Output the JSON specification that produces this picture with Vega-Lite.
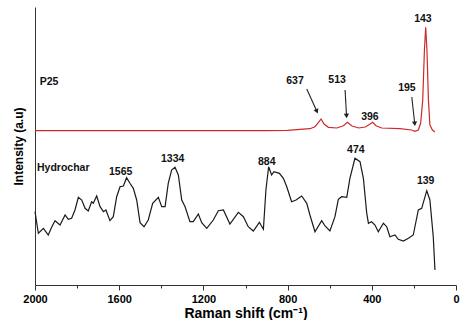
{
  "$schema": "https://vega.github.io/schema/vega-lite/v6.json",
  "width": 421,
  "height": 278,
  "autosize": {"type": "none"},
  "padding": {"left": 35, "top": 7, "right": 18, "bottom": 35},
  "background": "white",
  "config": {
    "view": {"stroke": null},
    "font": "Liberation Sans",
    "axis": {"grid": false, "domainColor": "#333333", "tickColor": "#333333", "labelFont": "Liberation Sans", "titleFont": "Liberation Sans", "labelColor": "#000000", "titleColor": "#000000"}
  },
  "datasets": {
    "p25": [
      {"shift": 2000, "intensity": 154.3}, {"shift": 1600, "intensity": 154.3}, {"shift": 1200, "intensity": 154.3},
      {"shift": 900, "intensity": 154.4}, {"shift": 800, "intensity": 154.6}, {"shift": 741, "intensity": 155.7},
      {"shift": 694, "intensity": 156.3}, {"shift": 670, "intensity": 158.3}, {"shift": 654, "intensity": 162.3},
      {"shift": 641, "intensity": 166}, {"shift": 627, "intensity": 161}, {"shift": 606, "intensity": 157.7},
      {"shift": 566, "intensity": 157}, {"shift": 535, "intensity": 159.3}, {"shift": 516, "intensity": 162.7},
      {"shift": 494, "intensity": 159}, {"shift": 462, "intensity": 157}, {"shift": 431, "intensity": 158},
      {"shift": 408, "intensity": 161}, {"shift": 396, "intensity": 162.7}, {"shift": 380, "intensity": 159.3},
      {"shift": 353, "intensity": 157}, {"shift": 266, "intensity": 156.3}, {"shift": 211, "intensity": 155},
      {"shift": 195, "intensity": 153.7}, {"shift": 179, "intensity": 155}, {"shift": 168, "intensity": 161.7},
      {"shift": 158, "intensity": 185}, {"shift": 150, "intensity": 235}, {"shift": 144, "intensity": 257.7},
      {"shift": 138, "intensity": 235}, {"shift": 131, "intensity": 185}, {"shift": 124, "intensity": 160},
      {"shift": 112, "intensity": 155}, {"shift": 100, "intensity": 153}
    ],
    "hydrochar": [
      {"shift": 2000, "intensity": 73.3}, {"shift": 1984, "intensity": 51.7}, {"shift": 1960, "intensity": 56.7},
      {"shift": 1937, "intensity": 50}, {"shift": 1921, "intensity": 57.7}, {"shift": 1905, "intensity": 64.3},
      {"shift": 1881, "intensity": 60}, {"shift": 1857, "intensity": 70}, {"shift": 1842, "intensity": 65.7},
      {"shift": 1826, "intensity": 66.7}, {"shift": 1810, "intensity": 75}, {"shift": 1794, "intensity": 87.7},
      {"shift": 1778, "intensity": 85}, {"shift": 1762, "intensity": 76.7}, {"shift": 1747, "intensity": 74},
      {"shift": 1731, "intensity": 83.3}, {"shift": 1723, "intensity": 81.7}, {"shift": 1707, "intensity": 89},
      {"shift": 1691, "intensity": 78.3}, {"shift": 1675, "intensity": 73.3}, {"shift": 1663, "intensity": 75},
      {"shift": 1644, "intensity": 64.3}, {"shift": 1628, "intensity": 68.3}, {"shift": 1612, "intensity": 88.3},
      {"shift": 1596, "intensity": 98.3}, {"shift": 1580, "intensity": 99}, {"shift": 1565, "intensity": 107.3},
      {"shift": 1549, "intensity": 101.7}, {"shift": 1533, "intensity": 96.7}, {"shift": 1517, "intensity": 85},
      {"shift": 1501, "intensity": 62.3}, {"shift": 1482, "intensity": 58.3}, {"shift": 1462, "intensity": 65},
      {"shift": 1441, "intensity": 81.7}, {"shift": 1414, "intensity": 87.7}, {"shift": 1398, "intensity": 78.3},
      {"shift": 1382, "intensity": 78.3}, {"shift": 1367, "intensity": 101.7}, {"shift": 1351, "intensity": 115},
      {"shift": 1335, "intensity": 117.7}, {"shift": 1319, "intensity": 110}, {"shift": 1303, "intensity": 85},
      {"shift": 1287, "intensity": 78.3}, {"shift": 1264, "intensity": 63.3}, {"shift": 1248, "intensity": 63.3},
      {"shift": 1224, "intensity": 71}, {"shift": 1208, "intensity": 62.3}, {"shift": 1184, "intensity": 56.7},
      {"shift": 1153, "intensity": 65}, {"shift": 1129, "intensity": 74.3}, {"shift": 1105, "intensity": 75},
      {"shift": 1074, "intensity": 61}, {"shift": 1034, "intensity": 72.7}, {"shift": 1010, "intensity": 68.3},
      {"shift": 987, "intensity": 58.3}, {"shift": 963, "intensity": 54}, {"shift": 934, "intensity": 62.7},
      {"shift": 915, "intensity": 55.7}, {"shift": 903, "intensity": 95}, {"shift": 890, "intensity": 118.3},
      {"shift": 876, "intensity": 110}, {"shift": 865, "intensity": 113.3}, {"shift": 839, "intensity": 111.7},
      {"shift": 820, "intensity": 106.7}, {"shift": 804, "intensity": 98.3}, {"shift": 781, "intensity": 83.3},
      {"shift": 760, "intensity": 85}, {"shift": 733, "intensity": 89}, {"shift": 709, "intensity": 81.7},
      {"shift": 694, "intensity": 70}, {"shift": 670, "intensity": 53.3}, {"shift": 638, "intensity": 64.3},
      {"shift": 622, "intensity": 59}, {"shift": 599, "intensity": 54}, {"shift": 575, "intensity": 68.3},
      {"shift": 559, "intensity": 85.7}, {"shift": 543, "intensity": 88.3}, {"shift": 519, "intensity": 87.7},
      {"shift": 504, "intensity": 106.7}, {"shift": 480, "intensity": 126.7}, {"shift": 456, "intensity": 123.3},
      {"shift": 440, "intensity": 106.7}, {"shift": 424, "intensity": 71.7}, {"shift": 416, "intensity": 61.7},
      {"shift": 401, "intensity": 63.3}, {"shift": 385, "intensity": 60}, {"shift": 369, "intensity": 53.3},
      {"shift": 345, "intensity": 61.7}, {"shift": 329, "intensity": 58.3}, {"shift": 314, "intensity": 48.3},
      {"shift": 290, "intensity": 50}, {"shift": 274, "intensity": 45.7}, {"shift": 250, "intensity": 44},
      {"shift": 226, "intensity": 46.7}, {"shift": 203, "intensity": 50}, {"shift": 179, "intensity": 75},
      {"shift": 163, "intensity": 76.7}, {"shift": 139, "intensity": 94.3}, {"shift": 124, "intensity": 85},
      {"shift": 108, "intensity": 48.3}, {"shift": 100, "intensity": 15}
    ],
    "labels": [
      {"x": 1933, "y": 203, "text": "P25"},
      {"x": 1866, "y": 117, "text": "Hydrochar"},
      {"x": 765, "y": 204, "text": "637"},
      {"x": 565, "y": 205, "text": "513"},
      {"x": 409, "y": 168, "text": "396"},
      {"x": 233, "y": 197, "text": "195"},
      {"x": 157, "y": 266, "text": "143"},
      {"x": 1593, "y": 113.3, "text": "1565"},
      {"x": 1346, "y": 126, "text": "1334"},
      {"x": 899, "y": 123, "text": "884"},
      {"x": 476, "y": 135, "text": "474"},
      {"x": 144, "y": 104, "text": "139"}
    ],
    "arrows": [
      {"peak": "637", "x": 709, "y": 196, "x2": 661, "y2": 173.7},
      {"peak": "513", "x": 527, "y": 195, "x2": 520, "y2": 169},
      {"peak": "195", "x": 210, "y": 188, "x2": 196, "y2": 161.3}
    ]
  },
  "encoding": {
    "x": {"type": "quantitative"},
    "y": {"type": "quantitative"}
  },
  "layer": [
    {
      "data": {"name": "p25"},
      "mark": {"type": "line", "color": "#cc2a2a", "strokeWidth": 1.2},
      "encoding": {
        "x": {"field": "shift", "type": "quantitative",
          "scale": {"domain": [0, 2000], "reverse": true, "nice": false, "zero": false},
          "axis": {
            "values": [2000, 1800, 1600, 1400, 1200, 1000, 800, 600, 400, 200, 0],
            "labelExpr": "datum.value % 400 === 0 ? datum.label : ''",
            "format": "d",
            "tickSize": {"condition": {"test": "datum.value % 400 === 0", "value": 5}, "value": 3},
            "labelFontSize": 11, "labelFontWeight": "bold", "labelPadding": 3,
            "labelFlush": false,
            "title": "Raman shift (cm⁻¹)", "titleFontSize": 14, "titleFontWeight": "bold", "titlePadding": 2
          }
        },
        "y": {"field": "intensity", "type": "quantitative",
          "scale": {"domain": [0, 278], "nice": false, "zero": false},
          "axis": {"labels": false, "ticks": false, "title": "Intensity (a.u)", "titleFontSize": 12, "titleFontWeight": "bold", "titlePadding": 10}
        }
      }
    },
    {
      "data": {"name": "hydrochar"},
      "mark": {"type": "line", "color": "#1a1a1a", "strokeWidth": 1.2},
      "encoding": {
        "x": {"field": "shift", "type": "quantitative"},
        "y": {"field": "intensity", "type": "quantitative"}
      }
    },
    {
      "data": {"name": "arrows"},
      "mark": {"type": "rule", "color": "#222222", "strokeWidth": 1.1},
      "encoding": {
        "x": {"field": "x", "type": "quantitative"},
        "y": {"field": "y", "type": "quantitative"},
        "x2": {"field": "x2"},
        "y2": {"field": "y2"}
      }
    },
    {
      "data": {"name": "arrows"},
      "transform": [{"filter": "datum.peak === '637'"}],
      "mark": {"type": "point", "shape": "triangle-down", "filled": true, "color": "#222222", "size": 28, "angle": 336, "opacity": 1},
      "encoding": {
        "x": {"field": "x2", "type": "quantitative"},
        "y": {"field": "y2", "type": "quantitative"}
      }
    },
    {
      "data": {"name": "arrows"},
      "transform": [{"filter": "datum.peak === '513'"}],
      "mark": {"type": "point", "shape": "triangle-down", "filled": true, "color": "#222222", "size": 28, "angle": 357, "opacity": 1},
      "encoding": {
        "x": {"field": "x2", "type": "quantitative"},
        "y": {"field": "y2", "type": "quantitative"}
      }
    },
    {
      "data": {"name": "arrows"},
      "transform": [{"filter": "datum.peak === '195'"}],
      "mark": {"type": "point", "shape": "triangle-down", "filled": true, "color": "#222222", "size": 28, "angle": 354, "opacity": 1},
      "encoding": {
        "x": {"field": "x2", "type": "quantitative"},
        "y": {"field": "y2", "type": "quantitative"}
      }
    },
    {
      "data": {"name": "labels"},
      "mark": {"type": "text", "fontSize": 10.5, "fontWeight": "bold", "color": "#111111", "align": "center", "baseline": "middle", "font": "Liberation Sans"},
      "encoding": {
        "x": {"field": "x", "type": "quantitative"},
        "y": {"field": "y", "type": "quantitative"},
        "text": {"field": "text"}
      }
    }
  ]
}
